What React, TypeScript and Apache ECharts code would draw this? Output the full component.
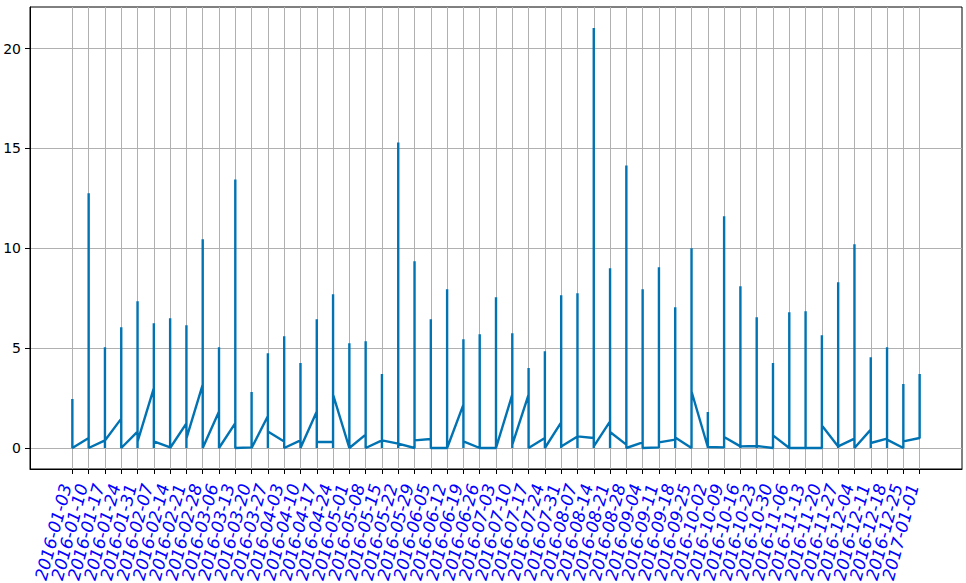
import React, { useEffect, useRef } from "react";
import * as echarts from "echarts";

const weekLabels = [
  "2016-01-03", "2016-01-10", "2016-01-17", "2016-01-24", "2016-01-31",
  "2016-02-07", "2016-02-14", "2016-02-21", "2016-02-28", "2016-03-06",
  "2016-03-13", "2016-03-20", "2016-03-27", "2016-04-03", "2016-04-10",
  "2016-04-17", "2016-04-24", "2016-05-01", "2016-05-08", "2016-05-15",
  "2016-05-22", "2016-05-29", "2016-06-05", "2016-06-12", "2016-06-19",
  "2016-06-26", "2016-07-03", "2016-07-10", "2016-07-17", "2016-07-24",
  "2016-07-31", "2016-08-07", "2016-08-14", "2016-08-21", "2016-08-28",
  "2016-09-04", "2016-09-11", "2016-09-18", "2016-09-25", "2016-10-02",
  "2016-10-09", "2016-10-16", "2016-10-23", "2016-10-30", "2016-11-06",
  "2016-11-13", "2016-11-20", "2016-11-27", "2016-12-04", "2016-12-11",
  "2016-12-18", "2016-12-25", "2017-01-01",
];

// value at the start of each week
const weekFirst = [
  0, 0.5, 0.38, 1.47, 0.82, 3.0, 0.03, 1.23, 3.17, 1.83,
  1.25, 0.03, 1.6, 0.33, 0.38, 1.83, 0.3, 0, 0.67, 0.38,
  0.22, 0, 0.45, 0, 2.17, 0, 0, 2.67, 2.67, 0.5,
  1.28, 0.58, 0.5, 1.33, 0.17, 0.28, 0.03, 0.42, 0, 0.05,
  0.03, 0.08, 0.1, 0, 0, 0, 0, 0.08, 0.47, 0.92,
  0.47, 0, 0.5,
];

// highest value in each week
const weekPeak = [
  2.45, 12.75, 5.05, 6.05, 7.35, 6.25, 6.5, 6.15, 10.45, 5.05,
  13.45, 2.8, 4.75, 5.6, 4.25, 6.45, 7.7, 5.25, 5.35, 3.7,
  15.3, 9.35, 6.45, 7.95, 5.45, 5.7, 7.55, 5.75, 4.0, 4.85,
  7.65, 7.75, 21.03, 9.0, 14.15, 7.95, 9.05, 7.05, 10.0, 1.8,
  11.6, 8.1, 6.55, 4.25, 6.8, 6.85, 5.65, 8.3, 10.2, 4.55,
  5.05, 3.2, 3.7,
];

// lowest value in each week
const weekLow = [
  0, 0, 0, 0, 0, 0, 0, 0, 0, 0,
  0, 0, 0, 0, 0, 0, 0, 0, 0, 0,
  0, 0, 0, 0, 0, 0, 0, 0, 0, 0,
  0, 0, 0, 0, 0, 0, 0, 0, 0, 0,
  0, 0, 0, 0, 0, 0, 0, 0, 0, 0,
  0, 0, 0.5,
];

// value at the end of each week
const weekLast = [
  0, 0, 0.38, 0, 0.32, 0.33, 0.03, 0.48, 0, 0,
  0.03, 0, 0.83, 0, 0, 0.3, 2.67, 0, 0, 0.38,
  0.22, 0.38, 0, 0, 0.33, 0, 0, 0.17, 0, 0,
  0.08, 0.58, 0.08, 0.8, 0, 0.03, 0.28, 0.53, 2.83, 0.05,
  0.55, 0.08, 0.1, 0.63, 0, 0, 1.13, 0.08, 0, 0.25,
  0.42, 0.33, 0.5,
];

const yTicks = [0, 5, 10, 15, 20];

export default function App() {
  const ref = useRef<HTMLDivElement>(null);

  useEffect(() => {
    if (!ref.current) return;
    const chart = echarts.init(ref.current, null, { renderer: "svg" });

    const points: number[][] = [];
    weekLabels.forEach((_, i) => {
      points.push([i, weekFirst[i]]);
      points.push([i, weekPeak[i]]);
      points.push([i, weekLow[i]]);
      points.push([i, weekLast[i]]);
    });
    const xTicks = weekLabels.map((_, i) => i);
    const evenTicks = xTicks.filter((i) => i % 2 === 0);
    const oddTicks = xTicks.filter((i) => i % 2 === 1);
    const n = weekLabels.length - 1;
    const xPad = n * 0.05;
    const yMax = Math.max(...weekPeak);
    const yPad = yMax * 0.05;

    const labelStyle = {
      showMinLabel: true,
      showMaxLabel: true,
      hideOverlap: false,
      rotate: 75,
      margin: 17,
      color: "#0000ff",
      fontStyle: "italic",
      fontFamily: "DejaVu Sans",
      fontSize: 17,
      lineHeight: 13,
      verticalAlign: "bottom",
      formatter: (v: number) => weekLabels[Math.round(v)] ?? "",
    };

    chart.setOption({
      animation: false,
      backgroundColor: "#ffffff",
      grid: {
        left: 30,
        right: 4,
        top: 7,
        bottom: 114,
        show: true,
        borderColor: "#000000",
        borderWidth: 1,
        backgroundColor: "transparent",
        containLabel: false,
        outerBoundsMode: "none",
      },
      xAxis: [
        {
          type: "value",
          position: "bottom",
          min: -xPad,
          max: n + xPad,
          axisLine: { show: true, onZero: false, lineStyle: { color: "#000", width: 1 } },
          axisTick: {
            show: true,
            length: 5,
            customValues: xTicks,
            lineStyle: { color: "#000", width: 1 },
          },
          axisLabel: { ...labelStyle, customValues: evenTicks },
          splitLine: { show: true, lineStyle: { color: "#b0b0b0", width: 1 } },
        },
        {
          type: "value",
          position: "bottom",
          offset: 0,
          min: -xPad,
          max: n + xPad,
          axisLine: { show: false },
          axisTick: { show: false, customValues: oddTicks },
          axisLabel: { ...labelStyle, customValues: oddTicks },
          splitLine: { show: false },
        },
      ],
      yAxis: {
        type: "value",
        min: -yPad,
        max: yMax + yPad,
        axisLine: { show: true, onZero: false, lineStyle: { color: "#000", width: 1 } },
        axisTick: {
          show: true,
          length: 5,
          customValues: yTicks,
          lineStyle: { color: "#000", width: 1 },
        },
        axisLabel: {
          customValues: yTicks,
          margin: 9,
          color: "#000",
          fontFamily: "DejaVu Sans",
          fontSize: 14,
        },
        splitLine: { show: true, lineStyle: { color: "#b0b0b0", width: 1 } },
      },
      series: [
        {
          type: "line",
          xAxisIndex: 0,
          data: points,
          showSymbol: false,
          symbol: "none",
          lineStyle: { color: "#0173b2", width: 2.4 },
          itemStyle: { color: "#0173b2" },
        },
      ],
    });

    return () => chart.dispose();
  }, []);

  return (
    <div
      ref={ref}
      style={{ position: "fixed", left: 0, top: 0, width: 966, height: 583 }}
    />
  );
}
